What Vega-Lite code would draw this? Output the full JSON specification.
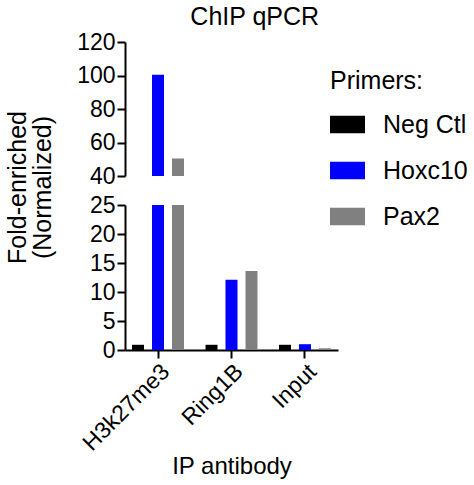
{
  "$schema": "https://vega.github.io/schema/vega-lite/v6.json",
  "title": {"text": "ChIP qPCR", "fontSize": 25, "fontWeight": "normal", "font": "Liberation Sans", "color": "black", "anchor": "middle", "offset": 1, "dx": 18},
  "data": {
    "values": [
      {"antibody": "H3k27me3", "primer": "Neg Ctl", "value": 0.9},
      {"antibody": "H3k27me3", "primer": "Hoxc10", "value": 100.5},
      {"antibody": "H3k27me3", "primer": "Pax2", "value": 50.5},
      {"antibody": "Ring1B", "primer": "Neg Ctl", "value": 0.9},
      {"antibody": "Ring1B", "primer": "Hoxc10", "value": 12.1},
      {"antibody": "Ring1B", "primer": "Pax2", "value": 13.6},
      {"antibody": "Input", "primer": "Neg Ctl", "value": 0.9},
      {"antibody": "Input", "primer": "Hoxc10", "value": 1.0},
      {"antibody": "Input", "primer": "Pax2", "value": 0.3}
    ]
  },
  "spacing": 29,
  "bounds": "flush",
  "resolve": {"scale": {"y": "independent", "color": "shared"}},
  "vconcat": [
    {
      "width": 213,
      "height": 134,
      "transform": [{"filter": "datum.value > 40"}],
      "mark": {"type": "bar", "clip": true},
      "encoding": {
        "x": {
          "field": "antibody", "type": "nominal",
          "sort": ["H3k27me3", "Ring1B", "Input"],
          "scale": {"domain": ["H3k27me3", "Ring1B", "Input"], "paddingInner": 0.184, "paddingOuter": 0.041},
          "axis": null
        },
        "xOffset": {
          "field": "primer", "type": "nominal",
          "scale": {"domain": ["Neg Ctl", "Hoxc10", "Pax2"], "paddingInner": 0.4, "paddingOuter": 0.2}
        },
        "y": {
          "field": "value", "type": "quantitative",
          "scale": {"domain": [40, 120], "nice": false, "zero": false},
          "axis": {"values": [40, 60, 80, 100, 120], "title": null}
        },
        "color": {
          "field": "primer", "type": "nominal",
          "scale": {"domain": ["Neg Ctl", "Hoxc10", "Pax2"], "range": ["#000000", "#0000ff", "#808080"]},
          "legend": {"title": "Primers:"}
        }
      }
    },
    {
      "width": 213,
      "height": 145,
      "mark": {"type": "bar", "clip": true},
      "encoding": {
        "x": {
          "field": "antibody", "type": "nominal",
          "sort": ["H3k27me3", "Ring1B", "Input"],
          "scale": {"domain": ["H3k27me3", "Ring1B", "Input"], "paddingInner": 0.184, "paddingOuter": 0.041},
          "axis": {"title": "IP antibody", "labelAngle": -45, "titlePadding": 0, "titleFontSize": 24}
        },
        "xOffset": {
          "field": "primer", "type": "nominal",
          "scale": {"domain": ["Neg Ctl", "Hoxc10", "Pax2"], "paddingInner": 0.4, "paddingOuter": 0.2}
        },
        "y": {
          "field": "value", "type": "quantitative",
          "scale": {"domain": [0, 25], "nice": false},
          "axis": {
            "values": [0, 5, 10, 15, 20, 25],
            "title": ["Fold-enriched", "(Normalized)"],
            "titleY": -18,
            "titlePadding": 34,
            "titleLineHeight": 25,
            "titleFontSize": 25
          }
        },
        "color": {
          "field": "primer", "type": "nominal",
          "scale": {"domain": ["Neg Ctl", "Hoxc10", "Pax2"], "range": ["#000000", "#0000ff", "#808080"]},
          "legend": {"title": "Primers:"}
        }
      }
    }
  ],
  "config": {
    "font": "Liberation Sans",
    "view": {"stroke": null},
    "axis": {
      "grid": false,
      "domainColor": "black",
      "domainWidth": 2,
      "tickColor": "black",
      "tickWidth": 2,
      "tickSize": 8,
      "labelColor": "black",
      "labelFontSize": 23,
      "labelPadding": 2,
      "titleColor": "black",
      "titleFontSize": 23,
      "titleFontWeight": "normal"
    },
    "legend": {
      "orient": "none",
      "legendX": 205,
      "legendY": 27,
      "symbolType": "M-1,-0.5H1V0.5H-1Z",
      "symbolSize": 1225,
      "symbolStrokeWidth": 0,
      "labelFontSize": 25,
      "labelColor": "black",
      "labelOffset": 18,
      "titleFontSize": 25,
      "titleFontWeight": "normal",
      "titleColor": "black",
      "titlePadding": 13,
      "rowPadding": 15
    }
  }
}
